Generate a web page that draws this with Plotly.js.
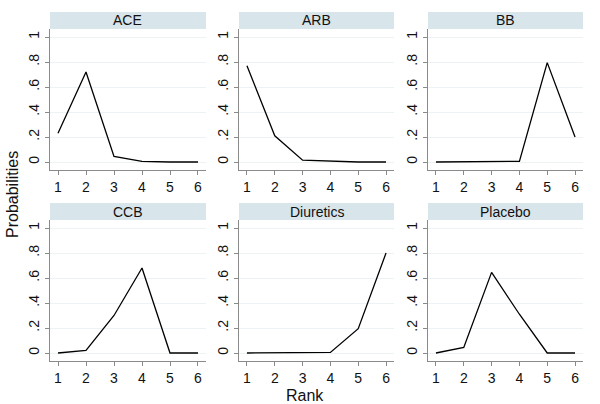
<!DOCTYPE html>
<html>
<head>
<meta charset="utf-8">
<script src="https://cdn.plot.ly/plotly-3.0.1.min.js"></script>
<style>html,body{margin:0;padding:0;background:#fff}#chart{width:600px;height:404px}</style>
</head>
<body>
<div id="chart"></div>
<script>
var ranks = [1, 2, 3, 4, 5, 6];
var treatments = ["ACE", "ARB", "BB", "CCB", "Diuretics", "Placebo"];
var ACE = [0.23, 0.72, 0.045, 0.005, 0.0, 0.0];
var ARB = [0.77, 0.21, 0.015, 0.005, 0.0, 0.0];
var BB = [0.0, 0.0, 0.0, 0.005, 0.795, 0.2];
var CCB = [0.0, 0.02, 0.3, 0.68, 0.0, 0.0];
var Diuretics = [0.0, 0.0, 0.0, 0.005, 0.195, 0.8];
var Placebo = [0.0, 0.045, 0.645, 0.31, 0.0, 0.0];
var yTickVals = [0, 0.2, 0.4, 0.6, 0.8, 1];
var yTickText = ["0", ".2", ".4", ".6", ".8", "1"];
var series = [ACE, ARB, BB, CCB, Diuretics, Placebo];

var W = 600, H = 404;
var colPx = [[50, 206], [239, 394], [428, 583]];
var rowPx = [[29, 170], [220, 361]];
var stripPx = [[12, 29], [203, 220]];

var data = [], layout = {
  width: W, height: H,
  margin: {l: 0, r: 0, t: 0, b: 0},
  paper_bgcolor: "#ffffff", plot_bgcolor: "#ffffff",
  showlegend: false,
  font: {family: "Liberation Sans, Arial, sans-serif", color: "#111"},
  shapes: [], annotations: []
};

for (var i = 0; i < 6; i++) {
  var r = Math.floor(i / 3), c = i % 3;
  var n = i + 1;
  var xa = "x" + (n === 1 ? "" : n), ya = "y" + (n === 1 ? "" : n);
  data.push({
    x: ranks, y: series[i], type: "scatter", mode: "lines",
    line: {color: "#000000", width: 1.3},
    xaxis: xa, yaxis: ya, hoverinfo: "skip"
  });
  var xd = [colPx[c][0] / W, colPx[c][1] / W];
  var yd = [1 - rowPx[r][1] / H, 1 - rowPx[r][0] / H];
  layout["xaxis" + (n === 1 ? "" : n)] = {
    domain: xd, anchor: ya, range: [0.714, 6.286],
    tickvals: ranks, ticktext: ranks.map(String),
    showgrid: false, zeroline: false,
    showline: true, linecolor: "#8a8a8a", linewidth: 1,
    ticks: "outside", ticklen: 4, tickcolor: "#8a8a8a",
    tickfont: {size: 14, color: "#111"}, fixedrange: true
  };
  layout["yaxis" + (n === 1 ? "" : n)] = {
    domain: yd, anchor: xa, range: [-0.064, 1.064],
    tickvals: yTickVals, ticktext: yTickText, tickangle: -90,
    showgrid: true, gridcolor: "#edf2f4", gridwidth: 1, zeroline: false,
    showline: true, linecolor: "#8a8a8a", linewidth: 1,
    ticks: "outside", ticklen: 4, tickcolor: "#8a8a8a",
    tickfont: {size: 14, color: "#111"}, fixedrange: true
  };
  var sy0 = 1 - stripPx[r][1] / H, sy1 = 1 - stripPx[r][0] / H;
  layout.shapes.push({
    type: "rect", xref: "paper", yref: "paper",
    x0: xd[0], x1: xd[1], y0: sy0, y1: sy1,
    fillcolor: "#d8e5eb", line: {width: 0}
  });
  layout.annotations.push({
    text: treatments[i], xref: "paper", yref: "paper",
    x: (xd[0] + xd[1]) / 2, y: (sy0 + sy1) / 2,
    xanchor: "center", yanchor: "middle", showarrow: false,
    font: {size: 14, color: "#111"}
  });
}
layout.annotations.push({
  text: "Probabilities", xref: "paper", yref: "paper",
  x: 12 / W, y: 1 - 195 / H, textangle: -90,
  xanchor: "center", yanchor: "middle", showarrow: false,
  font: {size: 16, color: "#111"}
});
layout.annotations.push({
  text: "Rank", xref: "paper", yref: "paper",
  x: 305 / W, y: 1 - 395 / H,
  xanchor: "center", yanchor: "middle", showarrow: false,
  font: {size: 16, color: "#111"}
});

Plotly.newPlot("chart", data, layout, {displayModeBar: false, staticPlot: true});
</script>
</body>
</html>
